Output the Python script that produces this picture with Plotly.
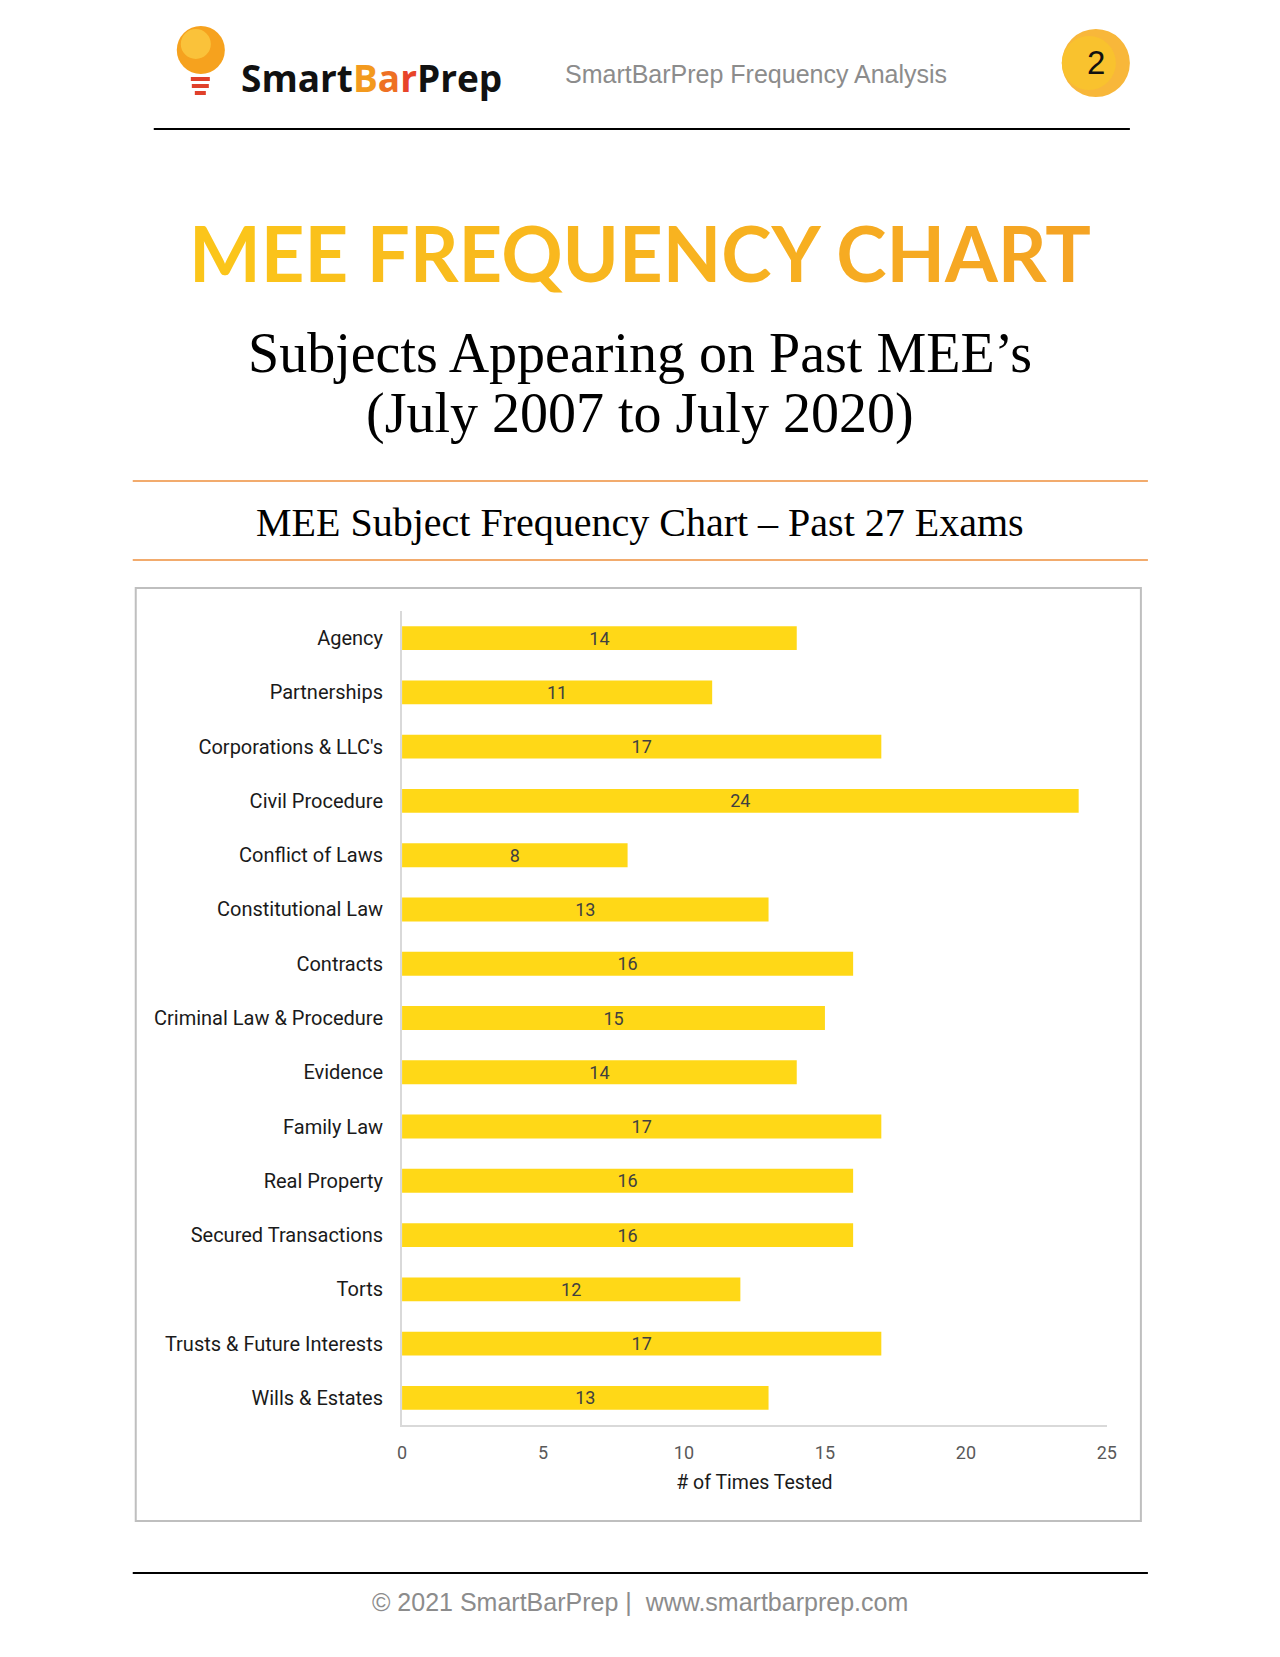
import plotly.graph_objects as go

# ---- data ----
subjects = ["Agency", "Partnerships", "Corporations & LLC's", "Civil Procedure",
            "Conflict of Laws", "Constitutional Law", "Contracts",
            "Criminal Law & Procedure", "Evidence", "Family Law", "Real Property",
            "Secured Transactions", "Torts", "Trusts & Future Interests",
            "Wills & Estates"]
times_tested = [14, 11, 17, 24, 8, 13, 16, 15, 14, 17, 16, 16, 12, 17, 13]
x_ticks = [0, 5, 10, 15, 20, 25]

OFF = 8  # default page body margin
W, H = 1280 - 2 * OFF, 1657 - 2 * OFF
SX, BX = 0.987, 5.5  # observed horizontal mapping of the rendered page


def px(x, y):
    xi = (x - BX) / SX
    return (xi - OFF) / W, 1 - (y - OFF) / H


def hexlerp(c1, c2, t):
    a = [int(c1[i:i + 2], 16) for i in (1, 3, 5)]
    b = [int(c2[i:i + 2], 16) for i in (1, 3, 5)]
    return "#" + "".join(f"{round(a[k] + (b[k] - a[k]) * t):02x}" for k in range(3))


def gradient_text(s, c1, c2):
    n = max(len(s) - 1, 1)
    return "".join(f'<span style="color:{hexlerp(c1, c2, i / n)}">{ch}</span>'
                   for i, ch in enumerate(s))


fig = go.Figure()
fig.add_trace(go.Bar(
    x=times_tested, y=subjects, orientation="h",
    marker=dict(color="#FFD817", line=dict(width=0)),
    text=[str(v) for v in times_tested], textposition="inside",
    insidetextanchor="middle", constraintext="none",
    textfont=dict(family="Roboto", size=18, color="#404040"),
    textangle=0, hoverinfo="skip", width=0.44,
))

x0, x1 = 402, 1106
yt, yb = 611, 1425
fig.update_layout(
    width=W, height=H, autosize=False,
    margin=dict(l=0, r=0, t=0, b=0),
    paper_bgcolor="white", plot_bgcolor="white",
    showlegend=False,
    xaxis=dict(domain=[px(x0, 0)[0], px(x1, 0)[0]], range=[0, 25], tickvals=x_ticks,
               showgrid=False, zeroline=False, showline=True,
               linecolor="#D9D9D9", linewidth=2, ticks="",
               tickfont=dict(family="Roboto", size=18, color="#595959"),
               ticklabelstandoff=10,
               title=dict(text="# of Times Tested", standoff=14,
                          font=dict(family="Roboto", size=19.5, color="#1a1a1a"))),
    yaxis=dict(domain=[px(0, yb)[1], px(0, yt)[1]], autorange="reversed",
               showgrid=False, zeroline=False, showline=True,
               linecolor="#D9D9D9", linewidth=2, ticks="",
               tickfont=dict(family="Roboto", size=20, color="#1a1a1a"),
               ticklabelstandoff=13),
)

shapes = []
annotations = []


def line(xa, ya, xb, yb_, color, width):
    p, q = px(xa, ya), px(xb, yb_)
    shapes.append(dict(type="line", xref="paper", yref="paper",
                       x0=p[0], y0=p[1], x1=q[0], y1=q[1],
                       line=dict(color=color, width=width)))


def rect(xa, ya, xb, yb_, fill=None, color=None, width=0):
    p, q = px(xa, ya), px(xb, yb_)
    shapes.append(dict(type="rect", xref="paper", yref="paper",
                       x0=p[0], y0=q[1], x1=q[0], y1=p[1],
                       fillcolor=fill if fill else "rgba(0,0,0,0)",
                       line=dict(color=color if color else "rgba(0,0,0,0)", width=width),
                       layer="below"))


def circle(cx, cy, r, fill, layer="above"):
    p, q = px(cx - r, cy - r), px(cx + r, cy + r)
    shapes.append(dict(type="circle", xref="paper", yref="paper",
                       x0=p[0], y0=q[1], x1=q[0], y1=p[1],
                       fillcolor=fill, line=dict(width=0), layer=layer))


def text(x, y, s, size, color="#000", family="Liberation Sans", anchor="center"):
    p = px(x, y)
    annotations.append(dict(xref="paper", yref="paper", x=p[0], y=p[1], text=s,
                            showarrow=False, xanchor=anchor, yanchor="middle",
                            font=dict(family=family, size=size, color=color)))


# header
# logo bulb
circle(201, 50, 24, "#F6A21E")
circle(196, 44, 15, "#FAC23A")
rect(191, 77, 210, 81, fill="#E0402A")
rect(192, 84, 209, 88, fill="#E0402A")
rect(195, 91, 206, 95, fill="#E0402A")
text(239, 77, "<b>Smart" + gradient_text("Bar", "#F39A1E", "#E8452A") + "Prep</b>",
     37, "#111111", "Open Sans", anchor="left")
text(756, 74, "SmartBarPrep Frequency Analysis", 25, "#8C8C8C", "Liberation Sans")
circle(1095, 63, 34, "#F8B73A")
circle(1088, 63, 27, "#F9C22E")
text(1095, 63, "2", 33, "#111111", "Liberation Sans")
line(154, 129, 1129, 129, "#000000", 2)

# titles
text(640, 252, "<b>" + gradient_text("MEE FREQUENCY CHART", "#FBC51A", "#F5A424") + "</b>",
     76, "#F8B51F", "Lato")
text(640, 353, "Subjects Appearing on Past MEE’s", 56, "#000000", "Liberation Serif")
text(640, 413, "(July 2007 to July 2020)", 56, "#000000", "Liberation Serif")
line(133, 481, 1147, 481, "#EE8F3C", 1.5)
text(640, 522, "MEE Subject Frequency Chart – Past 27 Exams", 40, "#000000", "Liberation Serif")
line(133, 560, 1147, 560, "#EE8F3C", 1.5)

# chart border
rect(136, 588, 1140, 1521, color="#BFBFBF", width=2)

# footer
line(133, 1573, 1147, 1573, "#000000", 2)
text(640, 1602, "© 2021 SmartBarPrep |  www.smartbarprep.com", 25, "#8C8C8C", "Liberation Sans")

fig.update_layout(shapes=shapes, annotations=annotations)
fig.write_html("out.html", config={"responsive": False})
